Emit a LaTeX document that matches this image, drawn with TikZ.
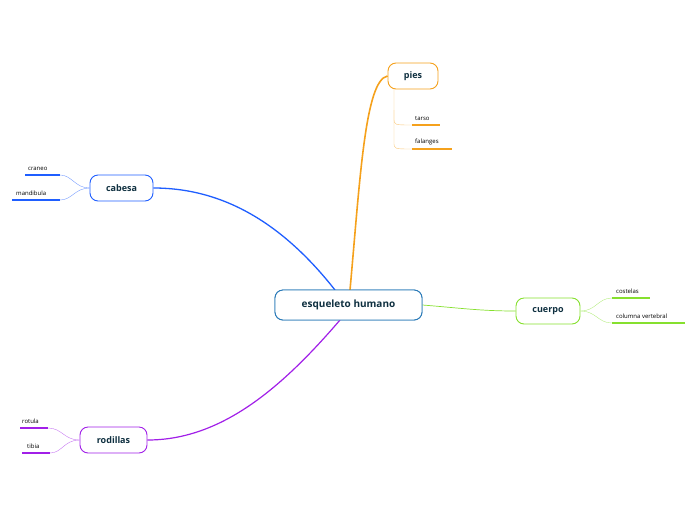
\documentclass[tikz,border=0pt]{standalone}
\usepackage{fontspec}
\setmainfont{Open Sans}
\definecolor{cblue}{HTML}{1F5EFF}
\definecolor{corange}{HTML}{F5A11C}
\definecolor{cgreen}{HTML}{86E02E}
\definecolor{cpurple}{HTML}{A11FE8}
\definecolor{cmain}{HTML}{2A7AB8}
\definecolor{ctext}{HTML}{0F3040}
\begin{document}
\begin{tikzpicture}[x=1pt,y=-1pt,
  topic/.style={draw,rounded corners=8pt,line width=0.9pt,minimum height=26pt,font=\bfseries\fontsize{9}{10}\selectfont,text=ctext,fill=white},
  sub/.style={font=\fontsize{6}{7}\selectfont,anchor=south west,inner sep=1pt,text=black}]
\useasboundingbox (0,0) rectangle (696,520);
% main connectors
\node[topic,draw=cmain,minimum width=147pt,minimum height=30pt,font=\bfseries\fontsize{10}{12}\selectfont] (c) at (348.5,305) {esqueleto humano};
\node[topic,draw=corange,minimum width=50pt] (p) at (413,76) {pies};
\node[topic,draw=cblue,minimum width=63pt] (h) at (121.5,188) {cabesa};
\node[topic,draw=cgreen,minimum width=64pt] (b) at (548,311) {cuerpo};
\node[topic,draw=cpurple,minimum width=67pt] (r) at (113.5,440) {rodillas};
\begin{scope}[on background layer/.style={}]
\end{scope}
\draw[corange,line width=1.6pt] (350,290) .. controls (360,180) and (365,80) .. (p.west);
\draw[cblue,line width=1.3pt] (335,290) .. controls (280,220) and (220,188) .. (h.east);
\draw[cgreen,line width=0.7pt] (c.east) .. controls (460,308) and (480,311) .. (b.west);
\draw[cpurple,line width=1.2pt] (340,320) .. controls (280,390) and (220,440) .. (r.east);
\node[topic,draw=cmain,minimum width=147pt,minimum height=30pt,font=\bfseries\fontsize{10}{12}\selectfont] at (348.5,305) {esqueleto humano};
% pies subs
\coordinate (t1) at (412,125); \coordinate (t2) at (440,125);
\coordinate (f1) at (412,149); \coordinate (f2) at (452,149);
\draw[corange,line width=1.2pt] (t1)--(t2); \draw[corange,line width=1.2pt] (f1)--(f2);
\node[sub] (tt) at (414,122) {tarso};
\node[sub] (ft) at (414,146) {falanges};
\draw[corange!60,line width=0.4pt] (394,89) -- (394,118) .. controls (394,125) .. (t1);
\draw[corange!60,line width=0.4pt] (394,110) -- (394,142) .. controls (394,149) .. (f1);
% cabesa subs
\coordinate (k1) at (25,175); \coordinate (k2) at (60,175);
\coordinate (m1) at (12,200); \coordinate (m2) at (60,200);
\draw[cblue,line width=1.2pt] (k1)--(k2); \draw[cblue,line width=1.2pt] (m1)--(m2);
\node[sub] at (27,172) {craneo};
\node[sub] at (15,197) {mandibula};
\draw[cblue!60,line width=0.4pt] (h.west) .. controls (75,188) and (72,175) .. (k2);
\draw[cblue!60,line width=0.4pt] (h.west) .. controls (75,188) and (72,200) .. (m2);
% cuerpo subs
\coordinate (s1) at (612,298); \coordinate (s2) at (650,298);
\coordinate (v1) at (612,323); \coordinate (v2) at (685,323);
\draw[cgreen,line width=1.2pt] (s1)--(s2); \draw[cgreen,line width=1.2pt] (v1)--(v2);
\node[sub] at (615,295) {costelas};
\node[sub] at (615,320) {columna vertebral};
\draw[cgreen!60,line width=0.4pt] (b.east) .. controls (596,311) and (598,298) .. (s1);
\draw[cgreen!60,line width=0.4pt] (b.east) .. controls (596,311) and (598,323) .. (v1);
% rodillas subs
\coordinate (o1) at (20,428); \coordinate (o2) at (48,428);
\coordinate (i1) at (22,453); \coordinate (i2) at (50,453);
\draw[cpurple,line width=1.2pt] (o1)--(o2); \draw[cpurple,line width=1.2pt] (i1)--(i2);
\node[sub] at (21,425) {rotula};
\node[sub] at (26,450) {tibia};
\draw[cpurple!60,line width=0.4pt] (r.west) .. controls (64,440) and (62,428) .. (o2);
\draw[cpurple!60,line width=0.4pt] (r.west) .. controls (64,440) and (62,453) .. (i2);
\end{tikzpicture}
\end{document}
